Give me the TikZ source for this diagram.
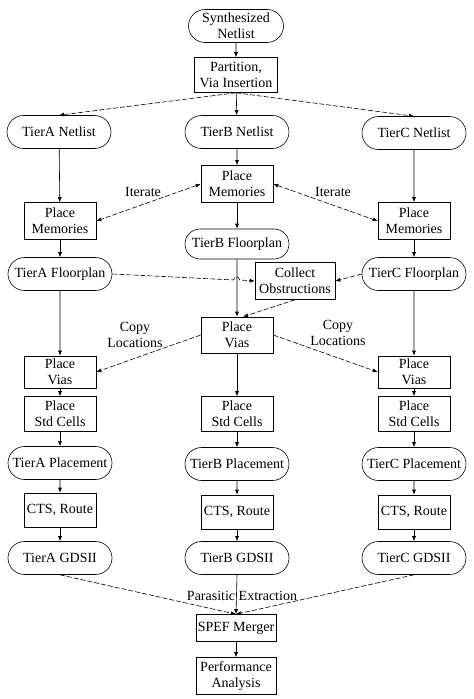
\documentclass[tikz,border=0pt]{standalone}
\usepackage{fontspec}
\setmainfont{Liberation Serif}
\usetikzlibrary{arrows.meta,calc,shapes.misc}
\begin{document}
\begin{tikzpicture}[x=1pt,y=-1pt,
  font=\fontsize{14}{16}\selectfont,
  every node/.style={align=center, inner sep=1pt, line width=0.6pt},
  pill/.style={draw, rounded rectangle, minimum width=106pt, minimum height=33pt},
  box/.style={draw, rectangle, minimum width=72pt, minimum height=35pt},
  arr/.style={-{Latex[length=5pt,width=4pt]}, line width=0.6pt},
  darr/.style={arr, dash pattern=on 5pt off 2pt},
  lbl/.style={inner sep=0pt}
]
\useasboundingbox (0,0) rectangle (474,699);
% nodes
\node[pill, minimum width=97pt] (sn) at (236,26) {Synthesized\\Netlist};
\node[box, minimum width=83pt] (part) at (236,75) {Partition,\\Via Insertion};
\node[pill] (ta) at (59,132) {TierA Netlist};
\node[pill] (tb) at (237,132) {TierB Netlist};
\node[pill] (tc) at (414,133) {TierC Netlist};
\node[box, minimum height=37pt] (pmb) at (237,184) {Place\\Memories};
\node[box, minimum height=37pt] (pma) at (60,221) {Place\\Memories};
\node[box, minimum height=37pt] (pmc) at (414,221) {Place\\Memories};
\node[pill, minimum height=30pt] (fpb) at (237,244) {TierB Floorplan};
\node[pill] (fpa) at (60,274) {TierA Floorplan};
\node[pill] (fpc) at (414,274) {TierC Floorplan};
\node[box, minimum width=80pt, minimum height=37pt] (co) at (295,281) {Collect\\Obstructions};
\node[box, minimum height=36pt] (pvb) at (237,335) {Place\\Vias};
\node[box, minimum height=32pt] (pva) at (60,372) {Place\\Vias};
\node[box, minimum height=32pt] (pvc) at (414,372) {Place\\Vias};
\node[box] (sca) at (60,414) {Place\\Std Cells};
\node[box] (scb) at (237,414) {Place\\Std Cells};
\node[box] (scc) at (414,414) {Place\\Std Cells};
\node[pill] (pla) at (60,463) {TierA Placement};
\node[pill] (plb) at (237,464) {TierB Placement};
\node[pill] (plc) at (414,464) {TierC Placement};
\node[box, minimum height=34pt] (cra) at (60,510) {CTS, Route};
\node[box, minimum height=34pt] (crb) at (237,512) {CTS, Route};
\node[box, minimum height=34pt] (crc) at (414,512) {CTS, Route};
\node[pill] (ga) at (60,558) {TierA GDSII};
\node[pill] (gb) at (237,558) {TierB GDSII};
\node[pill] (gc) at (414,558) {TierC GDSII};
\node[box, minimum width=80pt, minimum height=27pt] (spef) at (236,628) {SPEF Merger};
\node[box, minimum width=80pt, minimum height=37pt] (perf) at (236,676) {Performance\\Analysis};
% edges
\draw[arr] (sn) -- (part);
\draw[arr] (part) -- (tb);
\draw[darr] (part.south) -- (ta.north);
\draw[darr] (part.south) -- (tc.north);
\draw[arr] (ta) -- (pma);
\draw[arr] (tb) -- (pmb);
\draw[arr] (tc) -- (pmc);
\draw[darr, {Latex[length=5pt,width=4pt]}-{Latex[length=5pt,width=4pt]}] (pmb.west) -- (pma.east);
\draw[darr, {Latex[length=5pt,width=4pt]}-{Latex[length=5pt,width=4pt]}] (pmb.east) -- (pmc.west);
\node[lbl] (it1) at (143,192) {Iterate};
\node[lbl] (it2) at (333,192) {Iterate};
\draw[arr] (pma) -- (fpa);
\draw[arr] (pmb) -- (fpb);
\draw[arr] (pmc) -- (fpc);
\coordinate (h1) at ($(fpa.east)!0.852!(co.west)$);
\draw[darr] (fpa.east) -- (h1) arc[start angle=180, end angle=0, radius=3pt] -- (co.west);
\draw[darr] (fpc.west) -- (co.east);
\draw[arr] (fpb) -- (pvb);
\coordinate (pvbin) at ($(pvb.north)+(6,0)$);
\draw[darr] (co.south) -- (pvbin);
\draw[darr] (pvb.west) -- (pva.east);
\draw[darr] (pvb.east) -- (pvc.west);
\node[lbl] (cl1) at (135,335) {Copy\\Locations};
\node[lbl] (cl2) at (338,333) {Copy\\Locations};
\draw[arr] (fpa) -- (pva);
\draw[arr] (fpc) -- (pvc);
\draw[arr] (pva) -- (sca);
\draw[arr] (pvb) -- (scb);
\draw[arr] (pvc) -- (scc);
\draw[arr] (sca) -- (pla);
\draw[arr] (scb) -- (plb);
\draw[arr] (scc) -- (plc);
\draw[arr] (pla) -- (cra);
\draw[arr] (plb) -- (crb);
\draw[arr] (plc) -- (crc);
\draw[arr] (cra) -- (ga);
\draw[arr] (crb) -- (gb);
\draw[arr] (crc) -- (gc);
\draw[darr] (ga.south) -- (spef.north);
\draw[darr] (gc.south) -- (spef.north);
\draw[arr] (gb.south) -- (spef.north);
\node[lbl] (pe) at (242,596) {Parasitic Extraction};
\draw[arr] (spef) -- (perf);
\end{tikzpicture}
\end{document}
